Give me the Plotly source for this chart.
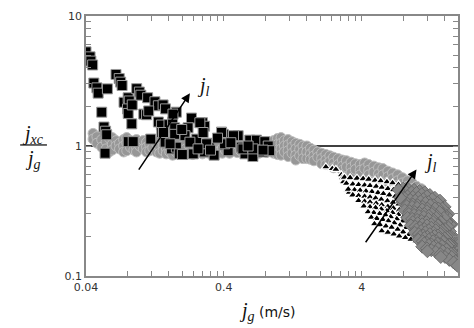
import math
import plotly.graph_objects as go

# ---------------- data ----------------
sq_jg = [0.040, 0.0428, 0.0434, 0.0447, 0.0456, 0.048, 0.049, 0.0572, 0.052, 0.054, 0.0555, 0.0565, 0.055,
         0.066, 0.0697, 0.0714, 0.0731, 0.0755, 0.0809, 0.0824, 0.080, 0.081, 0.0866, 0.0859, 0.081, 0.088,
         0.0933, 0.0976, 0.100, 0.105, 0.110, 0.112, 0.1265, 0.134, 0.145, 0.151, 0.114, 0.134, 0.141, 0.142,
         0.150, 0.160, 0.170, 0.176, 0.181, 0.176, 0.167, 0.171, 0.233, 0.280, 0.290, 0.220, 0.209, 0.254,
         0.316, 0.385, 0.396, 0.508, 0.617, 0.690, 0.793, 0.840, 0.405, 0.535, 0.181, 0.190, 0.240, 0.290,
         0.340, 0.430, 0.570, 0.650, 0.770, 0.860, 0.470, 0.550, 0.650, 0.770, 0.118, 0.146, 0.163, 0.198,
         0.227, 0.268, 0.283, 0.300, 0.405, 0.385, 0.200, 0.260, 0.320, 0.360, 0.450, 0.600]
sq_ratio = [5.3, 4.85, 4.5, 4.2, 3.05, 2.8, 2.55, 2.75, 1.82, 1.40, 1.30, 1.22, 0.88,
            3.55, 3.3, 3.1, 2.92, 2.17, 2.35, 2.22, 1.93, 1.78, 2.07, 1.48, 1.08, 1.08,
            2.76, 2.6, 2.46, 1.76, 1.74, 2.35, 2.19, 2.04, 2.07, 1.93, 1.86, 1.53, 1.45, 1.27,
            1.07, 1.46, 1.53, 1.38, 1.82, 1.23, 0.95, 1.76, 1.64, 1.51, 1.42, 1.38, 1.20, 1.13,
            1.05, 1.28, 1.23, 1.20, 1.11, 1.11, 1.08, 1.00, 1.02, 0.98, 0.98, 0.87, 0.87, 0.90,
            0.85, 0.92, 0.87, 0.83, 0.90, 0.92, 1.20, 0.95, 0.95, 0.93, 1.13, 1.27, 1.04, 1.34,
            1.07, 1.51, 1.27, 1.04, 1.04, 1.27, 0.86, 0.95, 0.93, 1.15, 1.06, 1.00]

ci_jg = [0.045, 0.045, 0.048, 0.048, 0.052, 0.052, 0.056, 0.056, 0.059, 0.059, 0.062, 0.062, 0.062,
         0.066, 0.066, 0.070, 0.070, 0.075, 0.075, 0.075, 0.079, 0.079, 0.079, 0.084, 0.084, 0.089, 0.089,
         0.093, 0.093, 0.093, 0.098, 0.098, 0.104, 0.104, 0.110, 0.110, 0.110, 0.116, 0.116, 0.122, 0.122,
         0.130, 0.130, 0.137, 0.137, 0.137, 0.145, 0.145, 0.153, 0.153, 0.153, 0.162, 0.162, 0.170, 0.170,
         0.170, 0.180, 0.180, 0.190, 0.190, 0.190, 0.200, 0.200, 0.212, 0.212, 0.212, 0.225, 0.225, 0.238,
         0.238, 0.238, 0.250, 0.250, 0.265, 0.265, 0.280, 0.280, 0.295, 0.295, 0.310, 0.310, 0.330, 0.330,
         0.350, 0.350, 0.370, 0.370, 0.390, 0.390, 0.410, 0.410, 0.440, 0.440, 0.470, 0.470, 0.500, 0.500,
         0.530, 0.530, 0.560, 0.560, 0.600, 0.600, 0.640, 0.640, 0.680, 0.680, 0.720, 0.720, 0.770, 0.770,
         0.820, 0.820, 0.870, 0.870, 0.920, 0.920, 0.920, 0.980, 0.980, 0.980, 0.980, 1.04, 1.04, 1.04, 1.04,
         1.10, 1.10, 1.10, 1.17, 1.17, 1.17, 1.17, 1.25, 1.25, 1.25, 1.33, 1.33, 1.33, 1.33, 1.42, 1.42, 1.42,
         1.50, 1.50, 1.50, 1.60, 1.60, 1.60, 1.70, 1.70, 1.70, 1.80, 1.80, 1.80, 1.92, 1.92, 2.05, 2.05, 2.05,
         2.20, 2.20, 2.20, 2.35, 2.35, 2.50, 2.50, 2.50, 2.70, 2.70, 2.90, 2.90, 2.90, 3.10, 3.10, 3.35, 3.35,
         3.35, 3.60, 3.60, 3.90, 3.90, 3.90, 4.20, 4.20, 4.50, 4.50, 4.50, 4.90, 4.90, 5.30, 5.30, 5.30, 5.70,
         5.70, 6.20, 6.20, 6.20, 6.70, 6.70, 7.30, 7.30, 7.30, 7.90, 7.90, 8.60, 8.60, 8.60, 9.30, 9.30, 10.0,
         10.0, 10.8]
ci_ratio = [1.25, 1.13, 1.18, 1.05, 1.12, 0.98, 1.08, 0.95, 1.15, 0.90, 1.16, 1.03, 0.93,
            1.10, 1.00, 1.05, 0.95, 1.12, 1.00, 0.90, 1.16, 1.06, 0.92, 1.10, 0.98, 1.05, 0.93,
            1.12, 0.98, 0.90, 1.06, 1.00, 1.10, 0.95, 1.07, 0.98, 0.90, 1.03, 0.92, 1.08, 0.97,
            1.05, 0.90, 1.10, 0.97, 0.88, 1.00, 0.92, 1.06, 0.95, 0.87, 1.02, 0.90, 1.08, 0.96,
            0.85, 1.00, 0.90, 1.05, 0.94, 0.87, 1.00, 0.90, 1.06, 0.95, 0.86, 1.00, 0.90, 1.04,
            0.93, 0.86, 0.98, 0.88, 1.03, 0.93, 0.98, 0.87, 1.05, 0.94, 0.99, 0.88, 1.04, 0.92,
            0.97, 0.86, 1.02, 0.91, 0.96, 0.88, 1.03, 0.93, 0.98, 0.88, 1.04, 0.93, 0.98, 0.89,
            1.02, 0.92, 0.97, 0.88, 1.03, 0.93, 0.98, 0.89, 1.02, 0.92, 0.97, 0.88, 1.03, 0.93,
            0.98, 0.89, 1.05, 0.92, 1.10, 0.98, 0.88, 1.14, 1.03, 0.93, 0.86, 1.16, 1.05, 0.95, 0.85,
            1.10, 1.00, 0.90, 1.12, 1.02, 0.92, 0.83, 1.08, 0.98, 0.88, 1.05, 0.95, 0.85, 0.78, 1.03, 0.94, 0.84,
            1.00, 0.90, 0.80, 1.00, 0.90, 0.80, 0.96, 0.87, 0.79, 0.93, 0.84, 0.77, 0.90, 0.82, 0.88, 0.80, 0.73,
            0.86, 0.78, 0.72, 0.84, 0.76, 0.82, 0.74, 0.68, 0.80, 0.72, 0.78, 0.70, 0.65, 0.77, 0.69, 0.75, 0.68,
            0.62, 0.73, 0.66, 0.72, 0.65, 0.60, 0.74, 0.67, 0.72, 0.65, 0.60, 0.70, 0.63, 0.68, 0.61, 0.56, 0.67,
            0.60, 0.64, 0.58, 0.53, 0.62, 0.56, 0.60, 0.54, 0.50, 0.57, 0.52, 0.54, 0.49, 0.46, 0.52, 0.47, 0.49,
            0.45, 0.47]

tr_jg = [2.2, 2.45, 2.6, 2.85, 2.95, 3.25, 2.9,
         3.0, 3.3, 3.7, 4.1, 4.5, 5.0, 5.5, 6.1, 6.7, 7.4,
         3.1, 3.45, 3.8, 4.2, 4.6, 5.1, 5.6, 6.2, 6.8, 7.5, 8.2,
         3.2, 3.55, 3.9, 4.3, 4.75, 5.25, 5.75, 6.35, 7.0, 7.7,
         3.45, 3.8, 4.2, 4.6, 5.05, 5.55, 6.15, 6.75, 7.45, 8.2,
         3.8, 4.2, 4.6, 5.1, 5.6, 6.2, 6.8, 7.5, 8.3,
         4.15, 4.6, 5.05, 5.55, 6.1, 6.7, 7.4, 8.1, 8.9,
         4.45, 4.9, 5.4, 5.95, 6.5, 7.2, 7.95, 8.7,
         4.7, 5.15, 5.7, 6.25, 6.9, 7.6, 8.4, 9.2,
         4.95, 5.45, 6.0, 6.6, 7.3, 8.0, 8.8, 9.7,
         5.6, 6.2, 6.85, 7.5, 8.3, 9.1, 9.9]
tr_ratio = [0.69, 0.67, 0.66, 0.60, 0.53, 0.44, 0.57,
            0.575, 0.57, 0.565, 0.56, 0.555, 0.545, 0.54, 0.53, 0.52, 0.505,
            0.515, 0.51, 0.505, 0.50, 0.495, 0.49, 0.48, 0.47, 0.46, 0.45, 0.44,
            0.465, 0.46, 0.455, 0.45, 0.445, 0.437, 0.43, 0.42, 0.41, 0.40,
            0.42, 0.415, 0.41, 0.405, 0.397, 0.388, 0.378, 0.368, 0.358, 0.348,
            0.38, 0.375, 0.37, 0.362, 0.352, 0.342, 0.332, 0.322, 0.312,
            0.345, 0.34, 0.335, 0.327, 0.317, 0.307, 0.297, 0.287, 0.277,
            0.312, 0.307, 0.302, 0.295, 0.285, 0.275, 0.265, 0.255,
            0.282, 0.277, 0.272, 0.266, 0.256, 0.246, 0.236, 0.226,
            0.252, 0.247, 0.242, 0.237, 0.228, 0.218, 0.208, 0.20,
            0.222, 0.217, 0.21, 0.203, 0.197, 0.191, 0.186]

di_jg = [8.0, 8.8, 9.6, 10.5, 11.5, 12.5, 13.6, 14.8, 16.0, 17.0, 18.0, 19.0, 19.8,
         8.4, 9.2, 10.0, 10.9, 11.9, 13.0, 14.2, 15.4, 16.5, 17.5, 18.5, 19.5,
         7.8, 8.6, 9.4, 10.3, 11.2, 12.2, 13.3, 14.4, 15.5, 16.5, 17.5, 18.5, 19.4,
         8.2, 9.0, 9.8, 10.7, 11.6, 12.6, 13.6, 14.7, 15.8, 16.8, 17.8, 18.8,
         7.9, 8.6, 9.4, 10.2, 11.1, 12.0, 13.0, 14.0, 15.0, 16.0, 17.0, 18.0, 19.0,
         8.5, 9.3, 10.1, 11.0, 11.9, 12.9, 13.9, 15.0, 16.1, 17.2, 18.3,
         8.2, 8.9, 9.7, 10.5, 11.4, 12.3, 13.3, 14.3, 15.4, 16.5, 17.6, 18.7,
         8.8, 9.6, 10.4, 11.3, 12.2, 13.2, 14.3, 15.4, 16.5, 17.7,
         8.6, 9.3, 10.1, 10.9, 11.8, 12.8, 13.8, 14.9, 16.0, 17.2, 18.4,
         9.4, 10.2, 11.0, 11.9, 12.8, 13.8, 14.9, 16.0, 17.2,
         9.1, 9.8, 10.6, 11.4, 12.3, 13.3, 14.3, 15.4, 16.6, 17.8,
         10.0, 10.8, 11.6, 12.5, 13.5, 14.5, 15.6, 16.8,
         9.7, 10.4, 11.2, 12.0, 12.9, 13.9, 15.0, 16.2, 17.4,
         10.6, 11.4, 12.3, 13.2, 14.2, 15.3, 16.5, 17.8,
         10.3, 11.1, 11.9, 12.8, 13.8, 14.9, 16.0, 17.2,
         11.4, 12.3, 13.3, 14.3, 15.5, 16.7, 18.0, 19.2,
         11.0, 11.9, 12.8, 13.8, 14.9, 16.1, 17.3, 18.6,
         7.4, 7.6, 19.8, 15.0, 12.0]
di_ratio = [0.47, 0.46, 0.46, 0.45, 0.44, 0.42, 0.40, 0.38, 0.34, 0.30, 0.25, 0.18, 0.13,
            0.445, 0.44, 0.435, 0.425, 0.41, 0.39, 0.365, 0.33, 0.29, 0.25, 0.20, 0.145,
            0.42, 0.41, 0.405, 0.40, 0.39, 0.37, 0.35, 0.33, 0.30, 0.26, 0.22, 0.17, 0.13,
            0.395, 0.385, 0.38, 0.375, 0.365, 0.35, 0.33, 0.31, 0.28, 0.24, 0.20, 0.155,
            0.37, 0.36, 0.355, 0.35, 0.34, 0.33, 0.31, 0.29, 0.26, 0.23, 0.20, 0.16, 0.125,
            0.345, 0.34, 0.335, 0.325, 0.315, 0.30, 0.28, 0.26, 0.23, 0.20, 0.165,
            0.32, 0.315, 0.31, 0.305, 0.30, 0.29, 0.27, 0.25, 0.225, 0.20, 0.17, 0.14,
            0.30, 0.295, 0.29, 0.285, 0.275, 0.26, 0.245, 0.225, 0.20, 0.175,
            0.28, 0.275, 0.27, 0.265, 0.26, 0.25, 0.235, 0.22, 0.195, 0.175, 0.15,
            0.26, 0.255, 0.25, 0.245, 0.235, 0.225, 0.21, 0.195, 0.175,
            0.245, 0.24, 0.235, 0.23, 0.225, 0.215, 0.205, 0.19, 0.17, 0.155,
            0.228, 0.222, 0.217, 0.21, 0.203, 0.195, 0.183, 0.17,
            0.215, 0.21, 0.205, 0.20, 0.195, 0.185, 0.175, 0.165, 0.15,
            0.20, 0.196, 0.19, 0.185, 0.178, 0.17, 0.16, 0.148,
            0.19, 0.185, 0.18, 0.175, 0.17, 0.16, 0.15, 0.14,
            0.178, 0.173, 0.167, 0.162, 0.155, 0.148, 0.14, 0.13,
            0.168, 0.163, 0.158, 0.153, 0.147, 0.14, 0.133, 0.127,
            0.46, 0.40, 0.12, 0.14, 0.155]

ref_line_x = [0.04, 20]
ref_line_y = [1, 1]

# arrows: (tail, head) in data units
arrow1_tail = (0.095, 0.64)
arrow1_head = (0.227, 2.55)
arrow2_tail = (4.2, 0.177)
arrow2_head = (10.0, 0.66)
label1_pos = (0.285, 2.85)
label2_pos = (12.6, 0.75)

x_tickvals = [0.04, 0.4, 4]
x_ticktext = ["0.04", "0.4", "4"]
x_minor_vals = [0.08, 0.12, 0.16, 0.2, 0.24, 0.28, 0.32, 0.36,
                0.8, 1.2, 1.6, 2.0, 2.4, 2.8, 3.2, 3.6, 8, 12, 16, 20]
y_tickvals = [0.1, 1, 10]
y_ticktext = ["0.1", "1", "10"]
y_minor_vals = [0.2, 0.3, 0.4, 0.5, 0.6, 0.7, 0.8, 0.9, 2, 3, 4, 5, 6, 7, 8, 9]

# ---------------- figure ----------------
fig = go.Figure()
fig.add_trace(go.Scatter(x=ref_line_x, y=ref_line_y, mode="lines",
                         line=dict(color="black", width=1.6), hoverinfo="skip"))
fig.add_trace(go.Scatter(x=ci_jg, y=ci_ratio, mode="markers",
                         marker=dict(symbol="circle", size=10, color="#979797",
                                     line=dict(color="#bdbdbd", width=1))))
fig.add_trace(go.Scatter(x=sq_jg, y=sq_ratio, mode="markers",
                         marker=dict(symbol="square", size=10, color="#000000",
                                     line=dict(color="#9a9a9a", width=1))))
fig.add_trace(go.Scatter(x=tr_jg, y=tr_ratio, mode="markers",
                         marker=dict(symbol="triangle-up", size=8, color="#000000",
                                     line=dict(color="#ffffff", width=1.2))))
fig.add_trace(go.Scatter(x=di_jg, y=di_ratio, mode="markers",
                         marker=dict(symbol="diamond", size=10, color="#878787",
                                     line=dict(color="#636363", width=0.8))))

def axis_style(minor_vals):
    return dict(type="log", showgrid=False, zeroline=False, showline=True,
                linecolor="#888888", linewidth=1.5, mirror="allticks",
                ticks="inside", ticklen=5, tickcolor="#888888", tickwidth=1,
                tickmode="array",
                minor=dict(tickmode="array", tickvals=minor_vals, ticks="inside",
                           ticklen=5, tickcolor="#888888", tickwidth=1, showgrid=False),
                tickfont=dict(family="DejaVu Sans", size=11, color="#333333"))

fig.update_layout(
    width=474, height=328,
    margin=dict(l=86, r=16, t=10, b=52),
    paper_bgcolor="white", plot_bgcolor="white",
    showlegend=False,
    xaxis=dict(range=[math.log10(0.04), math.log10(20)],
               tickvals=x_tickvals, ticktext=x_ticktext, **axis_style(x_minor_vals)),
    yaxis=dict(range=[-1, 1], tickvals=y_tickvals, ticktext=y_ticktext, **axis_style(y_minor_vals)),
)

ann = []
for tail, head in [(arrow1_tail, arrow1_head), (arrow2_tail, arrow2_head)]:
    ann.append(dict(x=math.log10(head[0]), y=math.log10(head[1]),
                    ax=math.log10(tail[0]), ay=math.log10(tail[1]),
                    xref="x", yref="y", axref="x", ayref="y",
                    text="", showarrow=True, arrowhead=2, arrowsize=1.2,
                    arrowwidth=1.5, arrowcolor="black", standoff=0))
serif = dict(family="Liberation Serif", size=20, color="#111111")
for pos in [label1_pos, label2_pos]:
    ann.append(dict(x=math.log10(pos[0]), y=math.log10(pos[1]), xref="x", yref="y",
                    text="<i>j<sub>l</sub></i>", showarrow=False, font=serif))
# y-axis fraction label
ann.append(dict(x=-0.143, y=0.545, xref="paper", yref="paper", showarrow=False,
                text="<i>j<sub>xc</sub></i>", font=serif, xanchor="center", yanchor="middle"))
ann.append(dict(x=-0.143, y=0.447, xref="paper", yref="paper", showarrow=False,
                text="<i>j<sub>g</sub></i>", font=serif, xanchor="center", yanchor="middle"))
# x-axis title
ann.append(dict(x=0.487, y=-0.135, xref="paper", yref="paper", showarrow=False,
                text="<span style='font-family:Liberation Serif;font-size:20px'><i>j<sub>g</sub></i></span> (m/s)",
                font=dict(family="DejaVu Sans", size=14, color="#111111"),
                xanchor="center", yanchor="middle"))
fig.update_layout(annotations=ann)
fig.add_shape(type="line", xref="paper", yref="paper", x0=-0.177, x1=-0.105,
              y0=0.504, y1=0.504, line=dict(color="black", width=1.2))

fig.write_html("out.html")
